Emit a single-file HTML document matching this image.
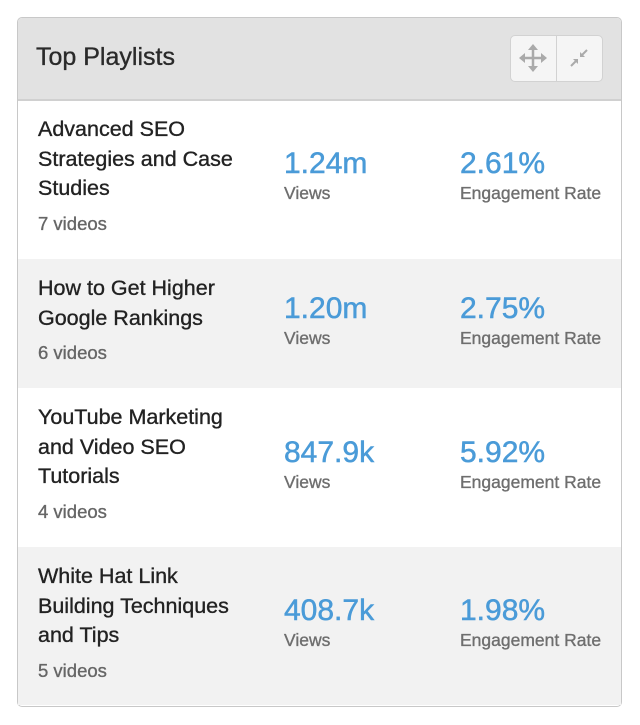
<!DOCTYPE html>
<html><head><style>
body{margin:0;width:640px;height:725px;background:#fff;font-family:"Liberation Sans",sans-serif;position:relative;overflow:hidden}
.card{position:absolute;left:17px;top:17px;width:603px;height:688px;border:1px solid #c8c8c8;border-radius:5px;overflow:hidden;background:#fff}
.hdr{position:absolute;left:0;top:0;width:603px;height:81px;background:#e2e2e2;border-bottom:2px solid #d0d0d0}
.t{position:absolute;white-space:nowrap;-webkit-text-stroke:0.35px currentColor}
.ttl{font-size:25px;color:#2a2a2a;left:18px;top:25px}
.btn{position:absolute;top:17px;width:45px;height:45px;background:#f5f5f5;border:1px solid #d2d2d2}
.nm{font-size:21.5px;color:#222;line-height:29.5px}
.vd{font-size:18.5px;color:#666}
.val{font-size:30px;color:#4a9bd8;-webkit-text-stroke:0.5px currentColor}
.lb{font-size:17.5px;color:#6e6e6e}
</style></head><body>
<div class="card">
<div class="hdr">
<div class="t ttl">Top Playlists</div>
<div class="btn" style="left:492px;border-radius:5px 0 0 5px"><svg width="44" height="44"><g stroke="#aaa" stroke-width="2.5" fill="#aaa"><line x1="22" y1="11" x2="22" y2="33"/><line x1="11" y1="22" x2="33" y2="22"/></g><g fill="#aaa"><polygon points="22,8 17,14 27,14"/><polygon points="22,36 17,30 27,30"/><polygon points="8,22 14,17 14,27"/><polygon points="36,22 30,17 30,27"/></g></svg></div>
<div class="btn" style="left:538px;border-radius:0 5px 5px 0"><svg width="44" height="44"><g stroke="#aaa" stroke-width="2"><line x1="14" y1="30" x2="20" y2="24"/><line x1="30" y1="14" x2="24" y2="20"/></g><g fill="#aaa"><polygon points="21,23 21,28 16,23"/><polygon points="23,21 28,21 23,16"/></g></svg></div>
</div>
</div>
<div style="position:absolute;left:18px;top:259px;width:603px;height:129px;background:#f2f2f2"></div>
<div style="position:absolute;left:18px;top:547px;width:603px;height:158px;background:#f2f2f2"></div>

<div class="t nm" style="left:38px;top:115px">Advanced SEO<br>Strategies and Case<br>Studies</div>
<div class="t vd" style="left:38px;top:213px">7 videos</div>
<div class="t val" style="left:284px;top:147px">1.24m</div>
<div class="t lb" style="left:284px;top:183px">Views</div>
<div class="t val" style="left:460px;top:147px">2.61%</div>
<div class="t lb" style="left:460px;top:183px">Engagement Rate</div>

<div class="t nm" style="left:38px;top:274px">How to Get Higher<br>Google Rankings</div>
<div class="t vd" style="left:38px;top:342px">6 videos</div>
<div class="t val" style="left:284px;top:292px">1.20m</div>
<div class="t lb" style="left:284px;top:328px">Views</div>
<div class="t val" style="left:460px;top:292px">2.75%</div>
<div class="t lb" style="left:460px;top:328px">Engagement Rate</div>

<div class="t nm" style="left:38px;top:403px">YouTube Marketing<br>and Video SEO<br>Tutorials</div>
<div class="t vd" style="left:38px;top:501px">4 videos</div>
<div class="t val" style="left:284px;top:436px">847.9k</div>
<div class="t lb" style="left:284px;top:472px">Views</div>
<div class="t val" style="left:460px;top:436px">5.92%</div>
<div class="t lb" style="left:460px;top:472px">Engagement Rate</div>

<div class="t nm" style="left:38px;top:562px">White Hat Link<br>Building Techniques<br>and Tips</div>
<div class="t vd" style="left:38px;top:660px">5 videos</div>
<div class="t val" style="left:284px;top:594px">408.7k</div>
<div class="t lb" style="left:284px;top:630px">Views</div>
<div class="t val" style="left:460px;top:594px">1.98%</div>
<div class="t lb" style="left:460px;top:630px">Engagement Rate</div>
</body></html>
